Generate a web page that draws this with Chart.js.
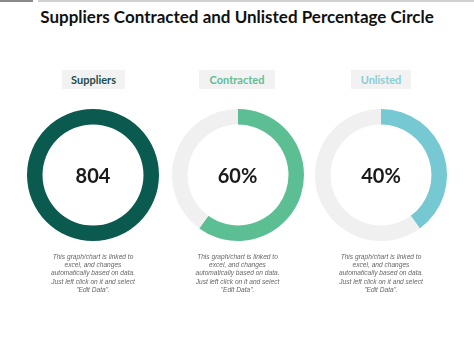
<!DOCTYPE html>
<html>
<head>
<meta charset="utf-8">
<script src="https://cdn.jsdelivr.net/npm/chart.js@4/dist/chart.umd.min.js"></script>
<style>
  html, body { margin:0; padding:0; background:#fff; }
  body { width:474px; height:355px; position:relative; overflow:hidden; font-family: Lato, "Open Sans", sans-serif; }
  .topbar { position:absolute; left:38px; top:0; width:436px; height:2px; background:#d0d0d0; }
  .topbar2 { position:absolute; left:0; top:0; width:33px; height:2px; background:#8a8a8a; }
  .title { position:absolute; left:0; top:6px; width:474px; text-align:center; font-weight:bold; font-size:17px; color:#111; white-space:nowrap; }
  .lbl { position:absolute; top:70px; height:19px; line-height:19px; text-align:center; background:#f2f2f2; font-weight:bold; font-size:11px; }
  .wrap { position:absolute; width:132px; height:132px; }
  .wrap canvas { position:absolute; left:0; top:0; }
  .center { position:absolute; left:0; top:0; width:132px; height:132px; line-height:132px; text-align:center; font-weight:bold; font-size:20px; color:#1a1a1a; }
  .desc { position:absolute; top:253px; width:110px; text-align:center; font-family:"Liberation Sans", Arial, sans-serif; font-style:italic; font-size:6.6px; line-height:8.2px; color:#666; }
</style>
</head>
<body>
<div class="topbar2"></div>
<div class="topbar"></div>
<div class="title" id="title"></div>
<div id="root"></div>
<script>
const titleText = 'Suppliers Contracted and Unlisted Percentage Circle';
const categories = ['Suppliers', 'Contracted', 'Unlisted'];
const centerLabels = ['804', '60%', '40%'];
const percentValues = [100, 60, 40];
const descText = 'This graph/chart is linked to<br>excel, and changes<br>automatically based on data.<br>Just left click on it and select<br>"Edit Data".';

const ringColors = ['#0b5a4f', '#5cbf94', '#76c8d3'];
const labelColors = ['#1e4e47', '#62bd97', '#8bcdd6'];
const trackColor = '#f0f0f0';
const centersX = [93, 237.5, 381];
const centerY = 174.5;
const labelBoxes = [[62, 63], [199, 76], [351, 60]];

document.getElementById('title').textContent = titleText;
const root = document.getElementById('root');

categories.forEach((cat, i) => {
  const lbl = document.createElement('div');
  lbl.className = 'lbl';
  lbl.style.left = labelBoxes[i][0] + 'px';
  lbl.style.width = labelBoxes[i][1] + 'px';
  lbl.style.color = labelColors[i];
  lbl.textContent = cat;
  root.appendChild(lbl);

  const wrap = document.createElement('div');
  wrap.className = 'wrap';
  wrap.style.left = (centersX[i] - 66) + 'px';
  wrap.style.top = (centerY - 66) + 'px';
  const cv = document.createElement('canvas');
  cv.width = 132; cv.height = 132;
  cv.style.width = '132px'; cv.style.height = '132px';
  wrap.appendChild(cv);
  const c = document.createElement('div');
  c.className = 'center';
  c.textContent = centerLabels[i];
  wrap.appendChild(c);
  root.appendChild(wrap);

  new Chart(cv, {
    type: 'doughnut',
    data: {
      labels: [cat, 'Rest'],
      datasets: [{
        data: [percentValues[i], 100 - percentValues[i]],
        backgroundColor: [ringColors[i], trackColor],
        borderWidth: 0
      }]
    },
    options: {
      responsive: false,
      animation: false,
      cutout: '76.5%',
      layout: { padding: 0 },
      plugins: { legend: { display: false }, tooltip: { enabled: false } }
    }
  });

  const d = document.createElement('div');
  d.className = 'desc';
  d.style.left = (centersX[i] - 55) + 'px';
  d.innerHTML = descText;
  root.appendChild(d);
});
</script>
</body>
</html>
